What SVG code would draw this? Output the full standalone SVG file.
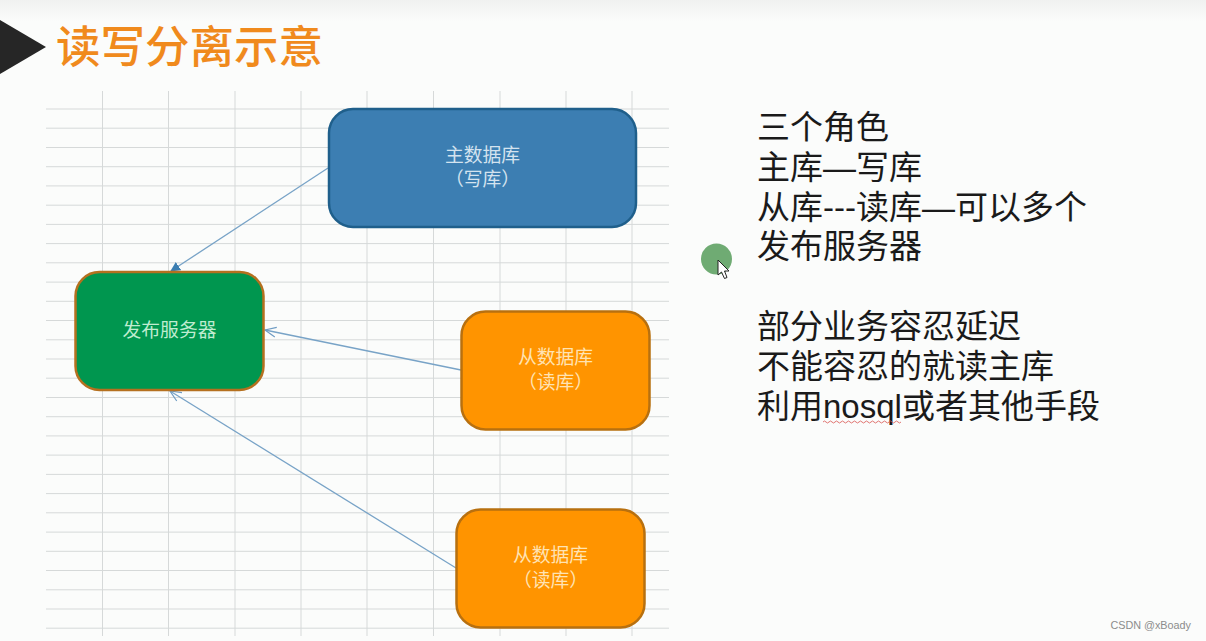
<svg xmlns="http://www.w3.org/2000/svg" width="1206" height="641" viewBox="0 0 1206 641">
<defs>
<linearGradient id="top" x1="0" y1="0" x2="0" y2="1"><stop offset="0" stop-color="#f0f1f0"/><stop offset="1" stop-color="#fbfcfb"/></linearGradient>
<marker id="open" markerUnits="userSpaceOnUse" markerWidth="14" markerHeight="14" refX="12" refY="6" orient="auto"><path d="M1 1 L12 6 L1 11" fill="none" stroke="#6f9cc4" stroke-width="1.2"/></marker>
<marker id="solid" markerUnits="userSpaceOnUse" markerWidth="12" markerHeight="12" refX="9" refY="5" orient="auto"><path d="M0 0 L10 5 L0 10 Z" fill="#3b7eb1"/></marker>
</defs>
<style>
.cjk{font-family:"Liberation Sans","Noto Sans CJK SC",sans-serif}
.node{font-family:"Liberation Sans","Noto Sans CJK SC",sans-serif;font-size:18.800px;text-anchor:middle}
.side{font-family:"Liberation Sans","Noto Sans CJK SC",sans-serif;font-size:33px;fill:#1a1a1a}
.grid line{stroke:#d6d9d9;stroke-width:1}
.conn{fill:none;stroke:#78a3c7;stroke-width:1.3}
</style>
<rect width="1206" height="641" fill="#fbfcfb"/>
<rect width="1206" height="22" fill="url(#top)"/>
<polygon id="title-arrow" points="0,20 46,47 0,74" fill="#262626"/>
<text id="title" class="cjk" x="56" y="63" font-size="44.500" font-weight="500" fill="#f08a1d">读写分离示意</text>
<g class="grid">
<line x1="102.500" y1="91" x2="102.500" y2="636"/><line x1="168.500" y1="91" x2="168.500" y2="636"/><line x1="235" y1="91" x2="235" y2="636"/><line x1="301" y1="91" x2="301" y2="636"/><line x1="367" y1="91" x2="367" y2="636"/><line x1="433.500" y1="91" x2="433.500" y2="636"/><line x1="500" y1="91" x2="500" y2="636"/><line x1="566" y1="91" x2="566" y2="636"/><line x1="632" y1="91" x2="632" y2="636"/>
<line x1="46" y1="109" x2="669" y2="109"/><line x1="46" y1="128.200" x2="669" y2="128.200"/><line x1="46" y1="147.500" x2="669" y2="147.500"/><line x1="46" y1="166.700" x2="669" y2="166.700"/><line x1="46" y1="185.900" x2="669" y2="185.900"/><line x1="46" y1="205.200" x2="669" y2="205.200"/><line x1="46" y1="224.400" x2="669" y2="224.400"/><line x1="46" y1="243.600" x2="669" y2="243.600"/><line x1="46" y1="262.800" x2="669" y2="262.800"/><line x1="46" y1="282.100" x2="669" y2="282.100"/><line x1="46" y1="301.300" x2="669" y2="301.300"/><line x1="46" y1="320.500" x2="669" y2="320.500"/><line x1="46" y1="339.800" x2="669" y2="339.800"/><line x1="46" y1="359" x2="669" y2="359"/><line x1="46" y1="378.200" x2="669" y2="378.200"/><line x1="46" y1="397.500" x2="669" y2="397.500"/><line x1="46" y1="416.700" x2="669" y2="416.700"/><line x1="46" y1="435.900" x2="669" y2="435.900"/><line x1="46" y1="455.100" x2="669" y2="455.100"/><line x1="46" y1="474.400" x2="669" y2="474.400"/><line x1="46" y1="493.600" x2="669" y2="493.600"/><line x1="46" y1="512.800" x2="669" y2="512.800"/><line x1="46" y1="532.100" x2="669" y2="532.100"/><line x1="46" y1="551.300" x2="669" y2="551.300"/><line x1="46" y1="570.500" x2="669" y2="570.500"/><line x1="46" y1="589.800" x2="669" y2="589.800"/><line x1="46" y1="609" x2="669" y2="609"/><line x1="46" y1="628.200" x2="669" y2="628.200"/>
</g>
<g id="connectors">
<line class="conn" x1="328" y1="168" x2="171" y2="271" marker-end="url(#solid)"/>
<line class="conn" x1="461" y1="370" x2="265" y2="330" marker-end="url(#open)"/>
<line class="conn" x1="456" y1="568" x2="170" y2="391" marker-end="url(#open)"/>
</g>
<g id="master">
<rect x="329" y="109" width="307" height="118" rx="24" fill="#3c7eb2" stroke="#1f5f8b" stroke-width="2.500"/>
<text class="node" x="482.500" y="162" fill="#d4e3ef">主数据库</text>
<text class="node" x="482.500" y="186" fill="#d4e3ef">（写库）</text>
</g>
<g id="publisher">
<rect x="75.500" y="272" width="188" height="118" rx="24" fill="#00964f" stroke="#b5701f" stroke-width="2.500"/>
<text class="node" x="169.500" y="337" fill="#bfeccf">发布服务器</text>
</g>
<g id="slave1">
<rect x="461.500" y="311.500" width="188" height="118" rx="24" fill="#ff9400" stroke="#b8700f" stroke-width="2.500"/>
<text class="node" x="555.500" y="364" fill="#ffe3b3">从数据库</text>
<text class="node" x="555.500" y="389" fill="#ffe3b3">（读库）</text>
</g>
<g id="slave2">
<rect x="456.500" y="509.500" width="188" height="118" rx="24" fill="#ff9400" stroke="#b8700f" stroke-width="2.500"/>
<text class="node" x="550.500" y="562" fill="#ffe3b3">从数据库</text>
<text class="node" x="550.500" y="587" fill="#ffe3b3">（读库）</text>
</g>
<g id="notes">
<text class="side" x="757" y="139">三个角色</text>
<text class="side" x="757" y="179">主库—写库</text>
<text class="side" x="757" y="219">从库---读库—可以多个</text>
<text class="side" x="757" y="258">发布服务器</text>
<text class="side" x="757" y="338">部分业务容忍延迟</text>
<text class="side" x="757" y="378">不能容忍的就读主库</text>
<text class="side" x="757" y="418">利用nosql或者其他手段</text>
<path d="M823 422 q1.500 -2 3 0 t3 0 t3 0 t3 0 t3 0 t3 0 t3 0 t3 0 t3 0 t3 0 t3 0 t3 0 t3 0 t3 0 t3 0 t3 0 t3 0 t3 0 t3 0 t3 0 t3 0 t3 0 t3 0 t3 0 t3 0 t3 0" fill="none" stroke="#d9534f" stroke-width="0.800"/>
</g>
<g id="cursor">
<circle cx="716.500" cy="259" r="15.500" fill="#6fab73"/>
<path d="M718 260 V275 L721.500 272 L724.500 278.500 L727 277.500 L724.500 271 L729 271 Z" fill="#fff" stroke="#222" stroke-width="1"/>
</g>
<text id="watermark" x="1191" y="629" text-anchor="end" font-family="Liberation Sans, sans-serif" font-size="10.800" fill="#8c8c8c">CSDN @xBoady</text>
</svg>
